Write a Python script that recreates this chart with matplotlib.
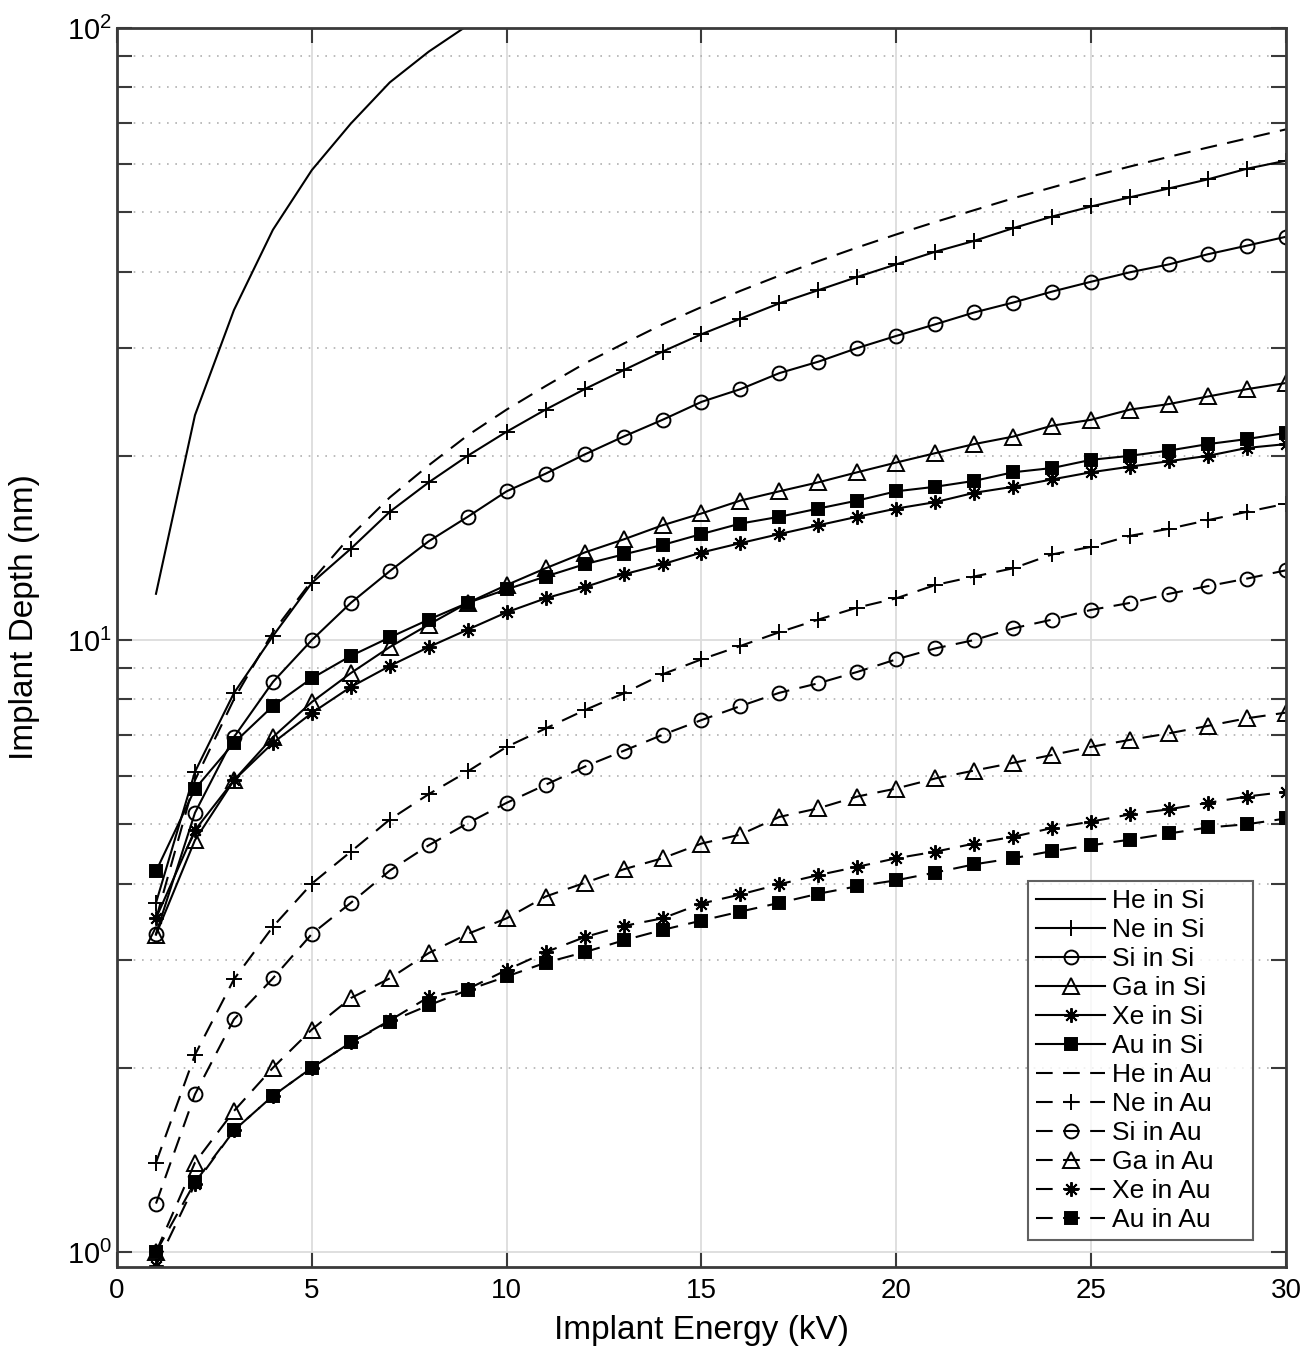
import numpy as np
import matplotlib
matplotlib.use("Agg")
import matplotlib.pyplot as plt
from matplotlib.ticker import LogLocator, NullFormatter

plt.rcParams['font.family'] = ['Liberation Sans', 'DejaVu Sans']

# implant energy (kV)
energy = list(range(1, 31))

# implant depth (nm)
he_si = [11.9, 23.3, 34.6, 46.8, 58.6, 69.8, 81.5, 91.5, 101, 110, 119, 128, 137, 146, 154,
         162, 170, 178, 186, 193, 200, 208, 215, 222, 229, 236, 243, 250, 256, 263]
ne_si = [3.72, 6.09, 8.19, 10.15, 12.4, 14.1, 16.2, 18.1, 20.0, 21.9, 23.8, 25.7, 27.6, 29.6, 31.6,
         33.5, 35.5, 37.3, 39.2, 41.1, 43.1, 44.9, 47.1, 49.2, 51.1, 52.9, 54.7, 56.6, 58.9, 60.7]
si_si = [3.31, 5.22, 6.94, 8.54, 10.0, 11.5, 12.96, 14.5, 15.9, 17.5, 18.7, 20.1, 21.5, 22.9, 24.5,
         25.7, 27.3, 28.5, 30.0, 31.4, 32.8, 34.3, 35.6, 37.1, 38.5, 39.9, 41.1, 42.7, 44.1, 45.6]
ga_si = [3.30, 4.71, 5.9, 6.94, 7.92, 8.83, 9.74, 10.6, 11.5, 12.3, 13.1, 13.9, 14.6, 15.4, 16.1,
         16.9, 17.5, 18.1, 18.8, 19.5, 20.2, 20.9, 21.5, 22.4, 22.9, 23.8, 24.3, 25.0, 25.7, 26.3]
xe_si = [3.51, 4.89, 5.9, 6.79, 7.6, 8.38, 9.07, 9.74, 10.4, 11.1, 11.7, 12.2, 12.8, 13.3, 13.9,
         14.4, 14.9, 15.4, 15.9, 16.4, 16.8, 17.4, 17.8, 18.3, 18.8, 19.2, 19.6, 20.0, 20.6, 20.9]
au_si = [4.19, 5.71, 6.79, 7.8, 8.66, 9.42, 10.1, 10.8, 11.5, 12.1, 12.7, 13.3, 13.8, 14.3, 14.9,
         15.5, 15.9, 16.4, 16.9, 17.5, 17.8, 18.2, 18.8, 19.1, 19.7, 20.0, 20.4, 20.9, 21.3, 21.8]
he_au = [3.5, 5.9, 8.0, 10.3, 12.5, 14.8, 17.1, 19.3, 21.6, 23.8, 26.0, 28.3, 30.5, 32.8, 35.0,
         37.2, 39.4, 41.6, 43.8, 46.0, 48.2, 50.4, 52.7, 54.9, 57.2, 59.4, 61.6, 63.8, 66.0, 68.3]
ne_au = [1.40, 2.10, 2.79, 3.40, 4.0, 4.51, 5.09, 5.6, 6.1, 6.69, 7.17, 7.68, 8.18, 8.79, 9.30,
         9.78, 10.3, 10.8, 11.3, 11.7, 12.3, 12.7, 13.1, 13.8, 14.2, 14.8, 15.2, 15.7, 16.2, 16.7]
si_au = [1.20, 1.81, 2.40, 2.80, 3.31, 3.72, 4.2, 4.62, 5.02, 5.42, 5.80, 6.21, 6.59, 7.0, 7.40,
         7.8, 8.2, 8.5, 8.87, 9.30, 9.69, 10.0, 10.45, 10.8, 11.2, 11.5, 11.9, 12.25, 12.6, 13.0]
ga_au = [1.0, 1.40, 1.70, 2.0, 2.31, 2.6, 2.80, 3.08, 3.31, 3.51, 3.81, 4.01, 4.22, 4.40, 4.65,
         4.81, 5.14, 5.31, 5.55, 5.72, 5.94, 6.12, 6.3, 6.49, 6.69, 6.87, 7.04, 7.24, 7.45, 7.61]
xe_au = [0.95, 1.29, 1.58, 1.80, 2.0, 2.2, 2.39, 2.61, 2.69, 2.89, 3.09, 3.27, 3.41, 3.51, 3.71,
         3.84, 3.99, 4.13, 4.26, 4.40, 4.51, 4.65, 4.77, 4.93, 5.05, 5.19, 5.29, 5.42, 5.55, 5.65]
au_au = [1.0, 1.30, 1.58, 1.80, 2.0, 2.2, 2.38, 2.53, 2.68, 2.82, 2.97, 3.09, 3.23, 3.36, 3.48,
         3.60, 3.72, 3.85, 3.96, 4.05, 4.17, 4.3, 4.4, 4.52, 4.62, 4.72, 4.83, 4.94, 5.0, 5.11]

labels = ["He in Si", "Ne in Si", "Si in Si", "Ga in Si", "Xe in Si", "Au in Si",
          "He in Au", "Ne in Au", "Si in Au", "Ga in Au", "Xe in Au", "Au in Au"]
series = [he_si, ne_si, si_si, ga_si, xe_si, au_si,
          he_au, ne_au, si_au, ga_au, xe_au, au_au]
markers = [None, '+', 'o', '^', (8, 2, 0), 's'] * 2
msizes = [0, 12, 10, 11, 10.5, 8.5] * 2

fig = plt.figure(figsize=(13.09, 13.67), dpi=100)
ax = fig.add_axes([0.0894, 0.0731, 0.8930, 0.9064])

for i in range(12):
    ls = '-' if i < 6 else '--'
    filled = markers[i] == 's'
    line, = ax.plot(energy, series[i], linestyle=ls, color='black', lw=1.5,
                    marker=markers[i], markersize=msizes[i], markeredgewidth=1.4,
                    markerfacecolor='black' if filled else 'none',
                    markeredgecolor='black', label=labels[i])
    if i >= 6:
        line.set_dashes((8, 5))

ax.set_yscale('log')
ax.set_xlim(0, 30)
ax.set_ylim(0.945, 100)
ax.set_xticks(range(0, 31, 5))
ax.yaxis.set_minor_locator(LogLocator(base=10, subs=np.arange(2, 10)))
ax.yaxis.set_minor_formatter(NullFormatter())

ax.grid(True, which='major', axis='both', color='#dcdcdc', lw=1.3, ls='-')
ax.grid(True, which='minor', axis='y', color='#b0b0b0', lw=1.2, ls=(0, (1, 4)))
ax.set_axisbelow(True)

for s in ax.spines.values():
    s.set_color('#3a3a3a')
    s.set_linewidth(2)
ax.tick_params(which='both', direction='in', top=True, right=True,
               colors='#3a3a3a', labelcolor='black', labelsize=20, width=1.5)
ax.tick_params(which='major', length=11)
ax.tick_params(which='minor', length=11)
ax.tick_params(axis='x', pad=8)
ax.tick_params(axis='y', labelsize=21)

ax.set_xlabel('Implant Energy (kV)', fontsize=24, labelpad=8)
ax.set_ylabel('Implant Depth (nm)', fontsize=24)
ax.yaxis.set_label_coords(-0.066, 0.525)

leg = ax.legend(loc='lower left', bbox_to_anchor=(0.779, 0.022, 0.193, 0.29),
                mode='expand', fontsize=19,
                handlelength=2.65, handletextpad=0.25, labelspacing=0.19,
                borderpad=0.3, borderaxespad=0, frameon=True, fancybox=False)
leg.get_frame().set_edgecolor('#3a3a3a')
leg.get_frame().set_linewidth(1.5)

fig.savefig('out.png', dpi=100)
